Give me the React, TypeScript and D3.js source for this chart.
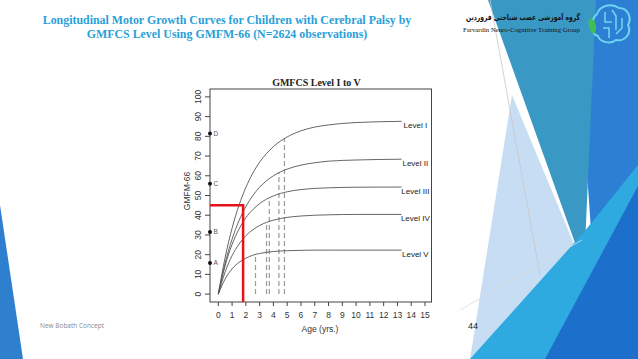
import React from 'react';
import * as d3 from 'd3';

// curve readings (GMFM-66 by age, yrs)
const ages = [0, 0.5, 1, 1.5, 2, 2.5, 3, 4, 5, 6, 7, 8, 10, 13.3];
const levelI = [0, 18.7, 33.4, 45.0, 54.1, 61.3, 66.9, 74.8, 79.7, 82.8, 84.7, 85.8, 87.0, 87.6];
const levelII = [0, 15.8, 27.9, 37.2, 44.4, 49.9, 54.2, 60.0, 63.4, 65.4, 66.6, 67.4, 68.0, 68.4];
const levelIII = [0, 14.5, 25.2, 32.9, 38.7, 42.8, 45.9, 49.8, 51.9, 53.0, 53.6, 53.9, 54.2, 54.3];
const levelIV = [0, 11.3, 19.5, 25.3, 29.6, 32.6, 34.8, 37.5, 38.9, 39.6, 40.0, 40.2, 40.4, 40.4];
const levelV = [0, 7.7, 12.8, 16.1, 18.2, 19.7, 20.6, 21.6, 22.0, 22.2, 22.3, 22.3, 22.3, 22.3];
const levelNames = ['Level I', 'Level II', 'Level III', 'Level IV', 'Level V'];

// age at 90% of limit, and score there
const age90 = [4.8, 4.4, 3.7, 3.5, 2.7];
const score90 = [78.9, 61.6, 48.9, 36.4, 20.1];

// item markers on the y axis
const markerLetters = ['A', 'B', 'C', 'D'];
const markerScores = [15.8, 31.5, 56, 81.5];

const redScore = 45;
const redAge = 1.8;

const xTicks = [0, 1, 2, 3, 4, 5, 6, 7, 8, 9, 10, 11, 12, 13, 14, 15];
const yTicks = [0, 10, 20, 30, 40, 50, 60, 70, 80, 90, 100];

const W = 638;
const H = 359;
const frame = { left: 210, right: 431.5, top: 89, bottom: 302 };

const App: React.FC = () => {
    const x = d3.scaleLinear().domain([0, 15]).range([218.3, 425]);
    const y = d3.scaleLinear().domain([0, 100]).range([294.1, 96.9]);

    const series = [levelI, levelII, levelIII, levelIV, levelV];
    const line = d3
        .line<number>()
        .x((_, i) => x(ages[i]))
        .y((d) => y(d))
        .curve(d3.curveMonotoneX);

    const axisFont = 'Liberation Sans, Arial, sans-serif';
    const serif = 'Liberation Serif, Times New Roman, serif';

    return (
        <svg width={W} height={H} style={{ position: 'absolute', left: 0, top: 0, background: '#fff' }}>
            {/* slide decoration */}
            <polygon points="0,205 23,359 0,359" fill="#2f7fcf" />
            <polygon points="575,0 638,0 638,359 600,359" fill="#2c7fd2" />
            <polygon points="488,0 596,0 584,268" fill="#3a98c4" />
            <polygon points="512,95 584,268 560,300 470,359" fill="#8fbbe8" opacity={0.5} />
            <polygon points="584,232 638,165 638,359 470,359" fill="#2eaae0" />
            <polygon points="638,186 638,359 545,359" fill="#1c6fcb" />
            <line x1={490} y1={0} x2={540} y2={275} stroke="#c8c8c8" strokeWidth={0.8} />
            <line x1={460} y1={310} x2={582} y2={240} stroke="#dcdcdc" strokeWidth={0.8} />

            {/* logo */}
            <g fill="none" stroke="#6fd3f2" strokeWidth={2}>
                <path d="M597,14 C600,5 612,3 619,8 C628,8 632,18 628,25 C632,33 625,42 616,40 C610,45 600,42 598,36 C590,34 590,20 597,14 Z" />
                <path d="M605,12 L605,22 L612,22 M612,10 L616,16 L616,30 M622,18 L622,28 L616,34 M603,28 L609,28 L609,38" strokeWidth={1.6} />
            </g>
            <path d="M590,18 C596,20 598,28 594,34 C589,31 587,24 590,18 Z" fill="#3fbf5a" />
            <text x={580} y={20} textAnchor="end" fontFamily="DejaVu Sans, sans-serif" fontWeight="bold" fontSize={8} fill="#111" textLength={114} lengthAdjust="spacingAndGlyphs">
                گروه آموزشی عصب شناختی فروردین
            </text>
            <text x={521.5} y={32} textAnchor="middle" fontFamily={serif} fontSize={7} fill="#111" textLength={117} lengthAdjust="spacingAndGlyphs">
                Farvardin Neuro-Cognitive Training Group
            </text>

            {/* slide title */}
            <g fontFamily={serif} fontWeight="bold" fill="#2aa0d9" textAnchor="middle">
                <text x={227} y={24} fontSize={11.9}>
                    Longitudinal Motor Growth Curves for Children with Cerebral Palsy by
                </text>
                <text x={227} y={38} fontSize={11.9}>
                    GMFCS Level Using GMFM-66 (N=2624 observations)
                </text>
            </g>

            {/* footer */}
            <text x={40} y={328} fontFamily="Open Sans, sans-serif" fontSize={6.5} fill="#8a8a8a">New Bobath Concept</text>
            <text x={473} y={329} textAnchor="middle" fontFamily={axisFont} fontSize={9} fill="#222">44</text>

            {/* chart title */}
            <text x={316.5} y={86} textAnchor="middle" fontFamily={serif} fontWeight="bold" fontSize={10} fill="#222">
                GMFCS Level I to V
            </text>

            {/* frame */}
            <rect x={frame.left} y={frame.top} width={frame.right - frame.left} height={frame.bottom - frame.top} fill="none" stroke="#444" strokeWidth={1} />

            {/* y axis */}
            <g fontFamily={axisFont} fontSize={8.5} fill="#333">
                {yTicks.map((t) => (
                    <g key={t}>
                        <line x1={frame.left - 5} x2={frame.left} y1={y(t)} y2={y(t)} stroke="#444" />
                        <text transform={`translate(${200.5},${y(t)}) rotate(-90)`} textAnchor="middle">{t}</text>
                    </g>
                ))}
                <text transform={`translate(${189.5},${191}) rotate(-90)`} textAnchor="middle">GMFM-66</text>
            </g>

            {/* x axis */}
            <g fontFamily={axisFont} fontSize={8.5} fill="#333">
                {xTicks.map((t) => (
                    <g key={t}>
                        <line x1={x(t)} x2={x(t)} y1={frame.bottom} y2={frame.bottom + 4} stroke="#444" />
                        <text x={x(t)} y={318} textAnchor="middle">{t}</text>
                    </g>
                ))}
                <text x={320} y={332} textAnchor="middle">Age (yrs.)</text>
            </g>

            {/* 90% age markers */}
            {age90.map((a, i) => (
                <line key={i} x1={x(a)} x2={x(a)} y1={y(0)} y2={y(score90[i])} stroke="#9a9a9a" strokeWidth={1.2} strokeDasharray="5,3" />
            ))}

            {/* curves */}
            {series.map((s, i) => (
                <path key={i} d={line(s) ?? ''} fill="none" stroke="#555" strokeWidth={0.9} />
            ))}
            {series.map((s, i) => (
                <text key={i} x={x(14.3)} y={y(s[s.length - 1]) + 6.5} textAnchor="middle" fontFamily={axisFont} fontSize={8} fill="#222">
                    {levelNames[i]}
                </text>
            ))}

            {/* item markers */}
            {markerLetters.map((m, i) => (
                <g key={m}>
                    <circle cx={frame.left} cy={y(markerScores[i])} r={2} fill="#111" />
                    <text x={frame.left + 3.5} y={y(markerScores[i]) + 2.5} fontFamily={axisFont} fontSize={6.5} fill="#555">{m}</text>
                </g>
            ))}

            {/* red reference */}
            <polyline
                points={`${frame.left},${y(redScore)} ${x(redAge)},${y(redScore)} ${x(redAge)},${frame.bottom}`}
                fill="none"
                stroke="#e5131b"
                strokeWidth={2.5}
            />
        </svg>
    );
};

export default App;
